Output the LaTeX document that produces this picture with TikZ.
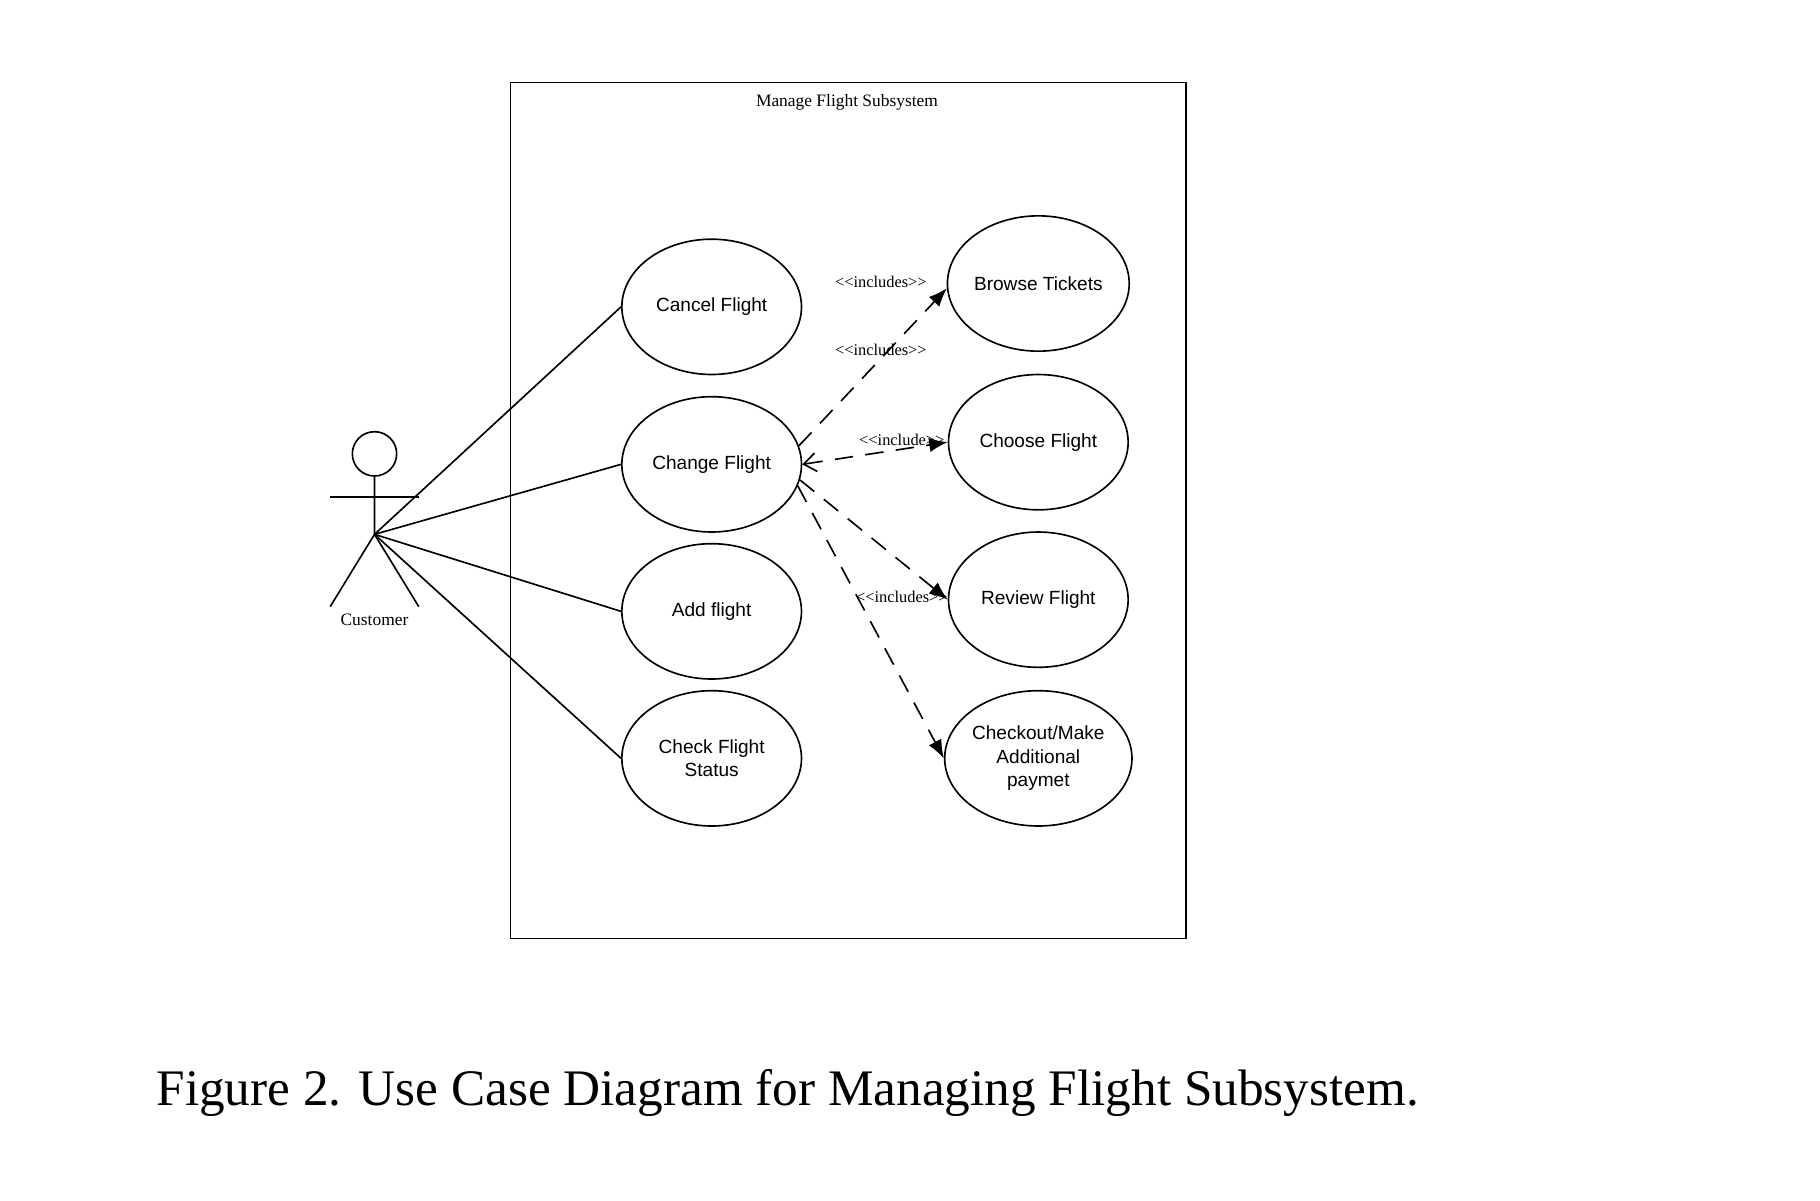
\documentclass[tikz,border=0pt]{standalone}
\usepackage{fontspec}
\newfontfamily\sans{Liberation Sans}
\setmainfont{Liberation Serif}
\usetikzlibrary{shapes.geometric,arrows.meta}
\newcommand{\myll}{{<}{<}}
\newcommand{\mygg}{{>}{>}}
\begin{document}
\begin{tikzpicture}[x=0.02cm,y=-0.02cm,
  uc/.style={draw,thick,ellipse,minimum width=3.08cm,minimum height=2.32cm,inner sep=0pt,align=center,font=\sans\fontsize{9.3}{11.5}\selectfont},
  inc/.style={draw,thick,dash pattern=on 9pt off 6pt,-{Latex[length=9pt,width=7pt]}},
  lab/.style={font=\fontsize{8}{9}\selectfont},
  as/.style={draw,thick}]
\useasboundingbox (0,0) rectangle (1560,1029);
\node[draw,thick,minimum width=11.58cm,minimum height=14.68cm,anchor=north west] (sys) at (437,70) {};
\node[font=\fontsize{8.5}{10}\selectfont] (title) at (726,88) {Manage Flight Subsystem};
\node[uc] (cancel) at (610,263) {Cancel Flight};
\node[uc] (change) at (610,398) {Change Flight};
\node[uc] (add) at (610,524) {Add flight};
\node[uc] (check) at (610,650) {Check Flight\\Status};
\node[uc] (browse) at (890,243) {Browse Tickets};
\node[uc] (choose) at (890,379) {Choose Flight};
\node[uc] (review) at (890,514) {Review Flight};
\node[uc] (checkout) at (890,650) {Checkout/Make\\Additional\\paymet};
% actor
\node[draw,thick,circle,minimum size=0.76cm,inner sep=0pt] (head) at (321,389) {};
\coordinate (hip) at (321,458);
\coordinate (la) at (283,426); \coordinate (ra) at (359,426);
\coordinate (ll) at (283,520); \coordinate (rl) at (359,520);
\draw[thick] (head.south) -- (hip) (la) -- (ra) (hip) -- (ll) (hip) -- (rl);
\node[font=\fontsize{8.5}{10}\selectfont] (cust) at (321,531) {Customer};
\draw[as] (hip) -- (cancel.west);
\draw[as] (hip) -- (change.west);
\draw[as] (hip) -- (add.west);
\draw[as] (hip) -- (check.west);
% includes
\draw[inc] (change.12) -- (browse.183);
\draw[inc,{Straight Barb[length=6pt,width=9pt]}-{Latex[length=9pt,width=7pt]}] (change.east) -- (choose.west);
\draw[inc] (change.-10) -- (review.west);
\draw[inc] (change.-14) -- (checkout.west);
\node[lab] (l1) at (755,242) {\myll includes\mygg};
\node[lab] (l2) at (755,300) {\myll includes\mygg};
\node[lab] (l3) at (773,377) {\myll include\mygg};
\node[lab] (l4) at (773,512) {\myll includes\mygg};
\node[anchor=west,font=\fontsize{25}{29}\selectfont] (cap) at (128,937) {Figure 2. Use Case Diagram for Managing Flight Subsystem.};
\end{tikzpicture}
\end{document}
